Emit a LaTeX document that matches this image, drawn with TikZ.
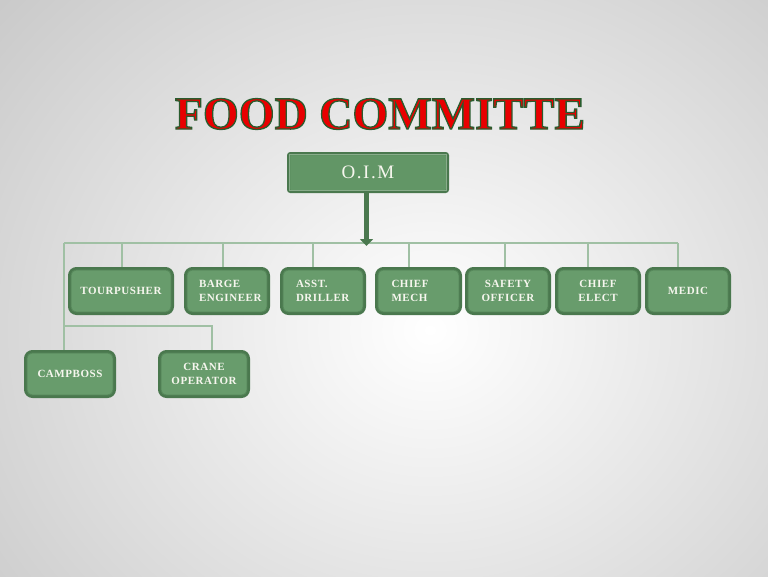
\documentclass[tikz,border=0pt]{standalone}
\usepackage{fontspec}
\setmainfont{Liberation Serif}
\newfontfamily\boxfont[LetterSpace=5]{Liberation Serif}
\newfontfamily\oimfont[LetterSpace=8]{Liberation Serif}
\usetikzlibrary{arrows.meta}
\definecolor{boxfill}{RGB}{104,156,108}
\definecolor{oimfill}{RGB}{98,150,102}
\definecolor{boxdark}{RGB}{74,120,78}
\definecolor{boxinner}{RGB}{86,136,90}
\definecolor{busline}{RGB}{160,192,164}
\definecolor{titlered}{RGB}{232,0,0}
\definecolor{boxtext}{RGB}{246,246,238}
\begin{document}
\begin{tikzpicture}[x=1pt,y=-1pt,
  role/.style={rounded corners=7pt, fill=boxfill, draw=boxdark, line width=3pt,
    minimum height=45pt, text=boxtext, inner sep=0pt,
    font=\boxfont\bfseries\fontsize{11}{14}\selectfont, align=center},
  leftrole/.style={role, align=left},
  innerline/.style={draw=boxinner, line width=0.9pt, rounded corners=5pt},
  bus/.style={draw=busline, line width=1.2pt},
  headarrow/.style={draw=boxdark, line width=5pt, -{Triangle[width=13pt,length=7pt]}}]
\useasboundingbox (0,0) rectangle (768,576);
\shade[inner color=white, outer color=black!22] (-170,-200) rectangle (1030,860);
% title
\node[font=\bfseries\fontsize{46}{46}\selectfont, inner sep=0pt] (title) at (380,114)
  {\color{titlered}\special{pdf:literal direct 2 Tr 1.3 w 0.16 0.36 0.18 RG}FOOD COMMITTE\special{pdf:literal direct 0 Tr}};
% top box
\node[rounded corners=2pt, fill=oimfill, draw=boxdark, line width=3pt, minimum width=159pt,
  minimum height=38pt, text=boxtext, font=\oimfont\fontsize{19}{21}\selectfont] (oim) at (368,172.5) {O.I.M};
\draw[draw=boxinner!70!white, line width=0.8pt] ([shift={(2.5pt,2.5pt)}]oim.south west) rectangle ([shift={(-2.5pt,-2.5pt)}]oim.north east);
% role boxes
\node[role, minimum width=103pt] (tour) at (121,291) {TOURPUSHER};
\node[leftrole, minimum width=83pt, text width=56pt] (barge) at (227,291) {BARGE\\ENGINEER};
\node[leftrole, minimum width=83pt, text width=54pt] (asst) at (323,291) {ASST.\\DRILLER};
\node[leftrole, minimum width=84pt, text width=54pt] (mech) at (418.5,291) {CHIEF\\MECH};
\node[role, minimum width=83pt] (safety) at (508,291) {SAFETY\\OFFICER};
\node[role, minimum width=83pt] (elect) at (598,291) {CHIEF\\ELECT};
\node[role, minimum width=83pt] (medic) at (688,291) {MEDIC};
\node[role, minimum width=89pt] (camp) at (70,374) {CAMPBOSS};
\node[role, minimum width=89pt] (crane) at (204,374) {CRANE\\OPERATOR};
\foreach \n in {tour,barge,asst,mech,safety,elect,medic,camp,crane}
  \draw[innerline] ([shift={(3pt,3pt)}]\n.south west) rectangle ([shift={(-3pt,-3pt)}]\n.north east);
% bus lines
\coordinate (bl) at (64,243);
\coordinate (br) at (678,243);
\coordinate (d1) at (122,243);
\coordinate (d2) at (223,243);
\coordinate (d3) at (313,243);
\coordinate (d4) at (409,243);
\coordinate (d5) at (505,243);
\coordinate (d6) at (588,243);
\coordinate (cb) at (64,326);
\coordinate (cr) at (212,326);
\draw[bus] (bl) -- (br);
\draw[bus] (d1) -- (d1 |- tour.north);
\draw[bus] (d2) -- (d2 |- barge.north);
\draw[bus] (d3) -- (d3 |- asst.north);
\draw[bus] (d4) -- (d4 |- mech.north);
\draw[bus] (d5) -- (d5 |- safety.north);
\draw[bus] (d6) -- (d6 |- elect.north);
\draw[bus] (br) -- (br |- medic.north);
\draw[bus] (bl) -- (bl |- camp.north);
\draw[bus] (cb) -- (cr) -- (cr |- crane.north);
% arrow
\coordinate (arrowend) at (366.5,246);
\draw[headarrow] (arrowend |- oim.south) -- (arrowend);
\end{tikzpicture}
\end{document}
